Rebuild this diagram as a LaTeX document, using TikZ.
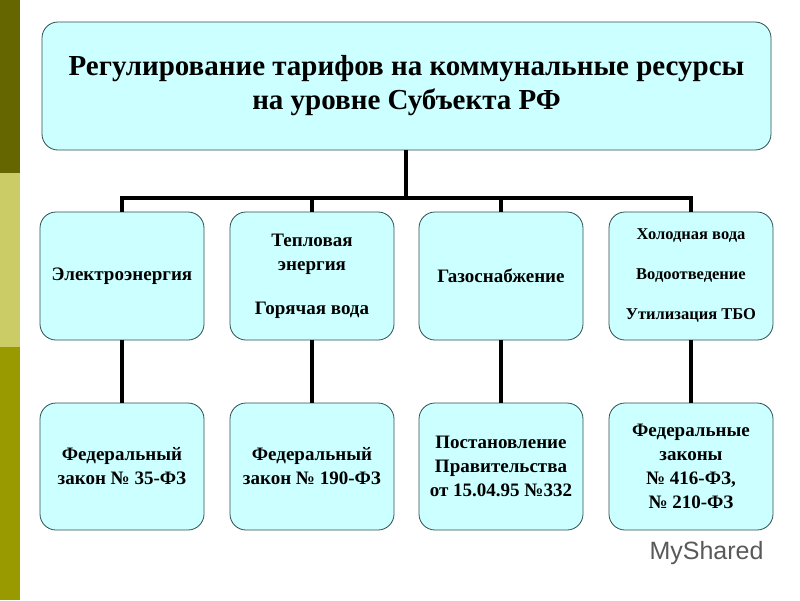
\documentclass[tikz,border=0pt]{standalone}
\usepackage{fontspec}
\setmainfont{Liberation Serif}
\newfontfamily\wmfont{Liberation Sans}
\definecolor{bar1}{HTML}{666600}
\definecolor{bar2}{HTML}{CCCC66}
\definecolor{bar3}{HTML}{999900}
\definecolor{boxfill}{HTML}{CCFFFF}
\definecolor{boxline}{HTML}{2F4F4F}
\begin{document}
\begin{tikzpicture}[x=1pt,y=-1pt,
  box/.style={draw=boxline, line width=0.8pt, fill=boxfill, rounded corners=16pt, font=\bfseries\fontsize{19}{24}\selectfont, align=center, inner sep=0pt},
  conn/.style={line width=4pt}]
\useasboundingbox (0,0) rectangle (800,600);
\fill[white] (0,0) rectangle (800,600);
\fill[bar1] (0,0) rectangle (20,173);
\fill[bar2] (0,173) rectangle (20,347);
\fill[bar3] (0,347) rectangle (20,600);
\node[box, minimum width=729pt, minimum height=128pt, font=\bfseries\fontsize{29}{34}\selectfont] (top) at (406.5,86) {Регулирование тарифов на коммунальные ресурсы\\на уровне Субъекта РФ};
\foreach \n/\x in {a/122,b/312,c/501,d/691}{
  \coordinate (j\n) at (\x,198);
}
\node[box, minimum width=164pt, minimum height=128pt] (a1) at (122,276) {Электроэнергия};
\node[box, minimum width=164pt, minimum height=128pt] (b1) at (312,276) {Тепловая\\энергия\\[20pt]Горячая вода};
\node[box, minimum width=164pt, minimum height=128pt] (c1) at (501,276) {Газоснабжение};
\node[box, minimum width=164pt, minimum height=128pt, font=\bfseries\fontsize{16.5}{20}\selectfont] (d1) at (691,276) {Холодная вода\\[20pt]Водоотведение\\[20pt]Утилизация ТБО};
\node[box, minimum width=164pt, minimum height=127pt] (a2) at (122,466.5) {Федеральный\\закон № 35-ФЗ};
\node[box, minimum width=164pt, minimum height=127pt] (b2) at (312,466.5) {Федеральный\\закон № 190-ФЗ};
\node[box, minimum width=164pt, minimum height=127pt] (c2) at (501,466.5) {Постановление\\Правительства\\от 15.04.95 №332};
\node[box, minimum width=164pt, minimum height=127pt] (d2) at (691,466.5) {Федеральные\\законы\\№ 416-ФЗ,\\№ 210-ФЗ};
\coordinate (jt) at (406,198);
\draw[conn] (top.south -| jt) -- (jt);
\draw[conn, line cap=rect] (ja) -- (jd);
\foreach \n in {a,b,c,d}{
  \draw[conn] (j\n) -- (\n1.north);
  \draw[conn] (\n1.south) -- (\n2.north);
}
\node[font=\wmfont\fontsize{25}{28}\selectfont, text=black!65, anchor=west] (wm) at (646,553) {MyShared};
\end{tikzpicture}
\end{document}
